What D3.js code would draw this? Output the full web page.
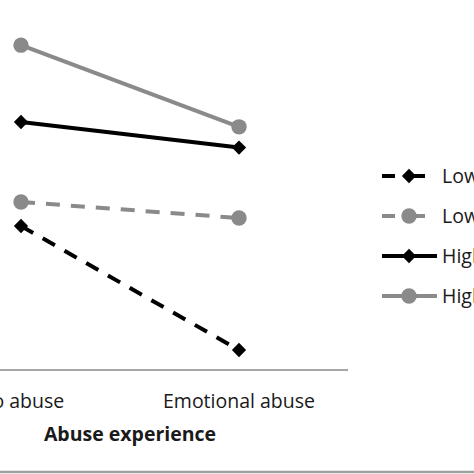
<!DOCTYPE html>
<html>
<head>
<meta charset="utf-8">
<script src="https://cdn.jsdelivr.net/npm/d3@7"></script>
<style>
  html, body { margin: 0; padding: 0; background: #fff; overflow: hidden; }
  svg { display: block; }
  text { font-family: "Open Sans", Lato, sans-serif; fill: #1a1a1a; }
</style>
</head>
<body>
<svg id="chart" width="474" height="474"></svg>
<script>
// ---- data ----
const categories = ["No abuse", "Emotional abuse"];
const seriesNames = ["Low self-esteem, girls", "Low self-esteem, boys", "High self-esteem, girls", "High self-esteem, boys"];
const lowBlack = [1.80, 0.25];
const lowGray = [2.10, 1.90];
const highBlack = [3.10, 2.78];
const highGray = [4.06, 3.04];
const xTitle = "Abuse experience";

const series = [
  { name: seriesNames[0], values: lowBlack, color: "#000000", dash: "14,11", marker: "diamond" },
  { name: seriesNames[1], values: lowGray, color: "#8a8a8a", dash: "14,11", marker: "circle" },
  { name: seriesNames[2], values: highBlack, color: "#000000", dash: null, marker: "diamond" },
  { name: seriesNames[3], values: highGray, color: "#8a8a8a", dash: null, marker: "circle" }
];

const svg = d3.select("#chart");

// plot area (left part cropped off-canvas like in the reference)
const x = d3.scalePoint().domain(categories).range([21, 239]);
const y = d3.scaleLinear().domain([0, 4.5]).range([370, 10]);

// x axis baseline
svg.append("line")
  .attr("x1", -200).attr("x2", 348)
  .attr("y1", y(0)).attr("y2", y(0))
  .attr("stroke", "#a6a6a6").attr("stroke-width", 2);

// category labels
svg.selectAll("text.cat").data(categories).enter().append("text")
  .attr("class", "cat")
  .attr("x", d => x(d)).attr("y", 408)
  .attr("text-anchor", "middle")
  .attr("font-size", 19.5)
  .text(d => d);

// axis title
svg.append("text")
  .attr("x", 130).attr("y", 441)
  .attr("text-anchor", "middle")
  .attr("font-size", 19.5).attr("font-weight", "bold")
  .text(xTitle);

// bottom frame line
svg.append("line")
  .attr("x1", 0).attr("x2", 474).attr("y1", 472).attr("y2", 472)
  .attr("stroke", "#a0a0a0").attr("stroke-width", 2.5);

const line = d3.line().x((d, i) => x(categories[i])).y(d => y(d));
const diamond = d3.symbol().type(d3.symbolDiamond2).size(130);
const circle = d3.symbol().type(d3.symbolCircle).size(185);

function drawMarker(g, type, color, cx, cy) {
  g.append("path")
    .attr("d", type === "diamond" ? diamond() : circle())
    .attr("transform", `translate(${cx},${cy})`)
    .attr("fill", color);
}

series.forEach(s => {
  const g = svg.append("g");
  g.append("path")
    .datum(s.values)
    .attr("d", line)
    .attr("fill", "none")
    .attr("stroke", s.color)
    .attr("stroke-width", 4)
    .attr("stroke-dasharray", s.dash);
  s.values.forEach((v, i) => drawMarker(g, s.marker, s.color, x(categories[i]), y(v)));
});

// legend
const legY = d3.scalePoint().domain(seriesNames).range([176, 296]);
series.forEach(s => {
  const g = svg.append("g").attr("transform", `translate(0,${legY(s.name)})`);
  if (s.dash) {
    g.append("line").attr("x1", 382).attr("x2", 395).attr("y1", 0).attr("y2", 0)
      .attr("stroke", s.color).attr("stroke-width", 4);
    g.append("line").attr("x1", 410).attr("x2", 425).attr("y1", 0).attr("y2", 0)
      .attr("stroke", s.color).attr("stroke-width", 4);
  } else {
    g.append("line").attr("x1", 382).attr("x2", 437).attr("y1", 0).attr("y2", 0)
      .attr("stroke", s.color).attr("stroke-width", 4);
  }
  drawMarker(g, s.marker, s.color, 409, 0);
  g.append("text").attr("x", 442).attr("y", 7)
    .attr("font-size", 19.5)
    .text(s.name);
});
</script>
</body>
</html>
